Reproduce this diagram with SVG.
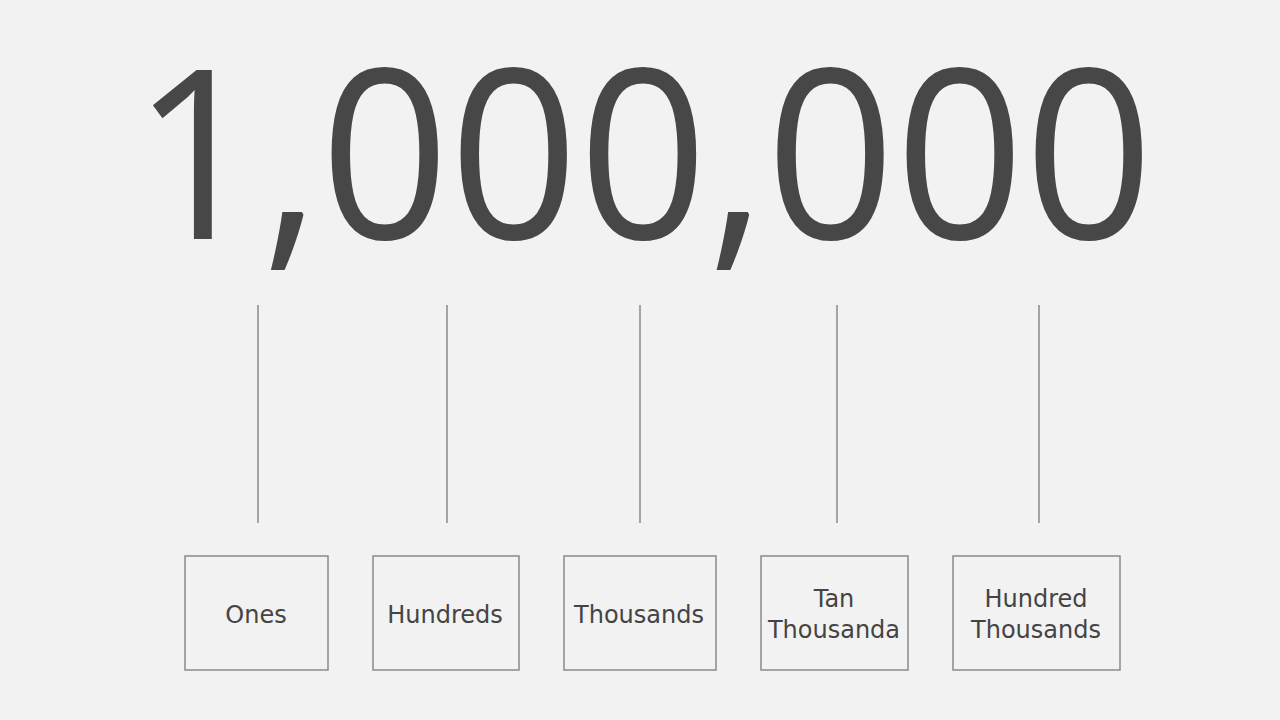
<svg xmlns="http://www.w3.org/2000/svg" width="1280" height="720" viewBox="0 0 1280 720">
<style>
.big{font-family:"Open Sans","Noto Sans",sans-serif;font-size:236px;fill:#474747}
.box{fill:none;stroke:#8a8a8a;stroke-width:1.5}
.lbl{font-family:"DejaVu Sans",sans-serif;font-size:24px;fill:#444;text-anchor:middle}
.conn{stroke:#8a8a8a;stroke-width:1.5}
</style>
<rect width="1280" height="720" fill="#f2f2f2"/>
<g id="number"><text class="big" x="640" y="239" text-anchor="middle" transform="translate(643,0) scale(0.957,1) translate(-640,0)">1,000,000</text></g>
<g id="connectors">
<line class="conn" x1="258" y1="305" x2="258" y2="523"/>
<line class="conn" x1="447" y1="305" x2="447" y2="523"/>
<line class="conn" x1="640" y1="305" x2="640" y2="523"/>
<line class="conn" x1="837" y1="305" x2="837" y2="523"/>
<line class="conn" x1="1039" y1="305" x2="1039" y2="523"/>
</g>
<g id="ones"><rect class="box" x="185" y="556" width="143" height="114"/><text class="lbl" x="256" y="623">Ones</text></g>
<g id="hundreds"><rect class="box" x="373" y="556" width="146" height="114"/><text class="lbl" x="445" y="623">Hundreds</text></g>
<g id="thousands"><rect class="box" x="564" y="556" width="152" height="114"/><text class="lbl" x="639" y="623">Thousands</text></g>
<g id="tenthousands"><rect class="box" x="761" y="556" width="147" height="114"/><text class="lbl" x="834" y="607">Tan</text><text class="lbl" x="834" y="638">Thousanda</text></g>
<g id="hundredthousands"><rect class="box" x="953" y="556" width="167" height="114"/><text class="lbl" x="1036" y="607">Hundred</text><text class="lbl" x="1036" y="638">Thousands</text></g>
</svg>
